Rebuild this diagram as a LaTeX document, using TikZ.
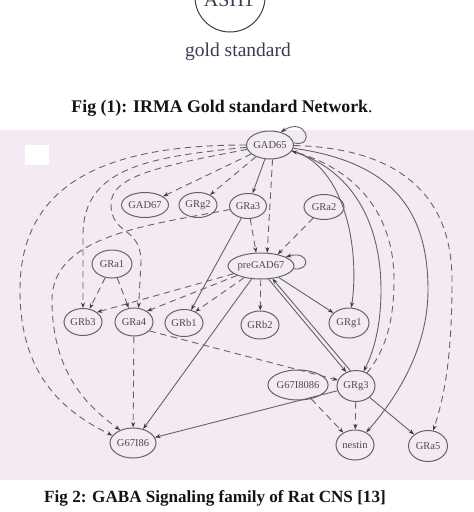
\documentclass[tikz,border=0pt]{standalone}
\usepackage{fontspec}
\setmainfont{Liberation Serif}
\usetikzlibrary{arrows.meta,shapes.geometric}
\definecolor{bgpink}{RGB}{244,234,244}
\definecolor{ln}{RGB}{100,100,100}
\definecolor{txt}{RGB}{75,75,75}
\definecolor{tip}{RGB}{60,60,60}
\definecolor{capc}{RGB}{20,20,20}
\definecolor{goldc}{RGB}{60,60,80}
\tikzset{
  nd/.style={ellipse, draw=ln, line width=1pt, inner sep=0pt, text=txt,
    font=\fontsize{10.5}{11}\selectfont, minimum width=38pt, minimum height=27pt},
  sol/.style={draw=ln, line width=0.9pt, -{Stealth[length=5.5pt,width=4pt,color=tip]}},
  dsh/.style={sol, dash pattern=on 6.5pt off 4.5pt},
}
\begin{document}
\begin{tikzpicture}[x=1pt,y=-1pt]
\useasboundingbox (0,0) rectangle (474,512);
\clip (0,0) rectangle (474,512);
\fill[white] (0,0) rectangle (474,512);
\fill[bgpink] (0,130) rectangle (474,480);
\fill[white] (25,145) rectangle (49,165);

% top part (IRMA)
\node[circle, draw=goldc, line width=1pt, minimum size=70pt, inner sep=0pt] (ash) at (230,-3) {};
\node[anchor=base, text=goldc, font=\fontsize{20}{22}\selectfont] (ashlbl) at (229,6) {ASH1};
\node[text=goldc, font=\fontsize{19.5}{22}\selectfont] (gold) at (238,52) {gold standard};
\node[text=capc, font=\fontsize{17.8}{20}\selectfont] (cap1) at (222,108) {\textbf{Fig (1): IRMA Gold standard Network}.};
\node[text=capc, font=\fontsize{17.1}{20}\selectfont\bfseries] (cap2) at (215,498) {Fig 2: GABA Signaling family of Rat CNS [13]};

% nodes
\node[nd, minimum width=46pt, minimum height=28pt] (GAD65) at (270,145) {GAD65};
\node[nd, minimum width=44pt, minimum height=25pt] (GAD67) at (145,205) {GAD67};
\node[nd, minimum height=25pt] (GRg2) at (198,205) {GRg2};
\node[nd, minimum width=37pt, minimum height=25pt] (GRa3) at (248,206) {GRa3};
\node[nd, minimum width=40pt, minimum height=25pt] (GRa2) at (324,207) {GRa2};
\node[nd, minimum width=57pt, minimum height=26pt] (preGAD67) at (261,266) {preGAD67};
\node[nd, minimum width=40pt, minimum height=28pt] (GRa1) at (112,264) {GRa1};
\node[nd] (GRb3) at (83,322) {GRb3};
\node[nd, minimum height=28pt] (GRa4) at (134,322) {GRa4};
\node[nd] (GRb1) at (184,323) {GRb1};
\node[nd, minimum height=28pt] (GRb2) at (260,325) {GRb2};
\node[nd, minimum width=40pt, minimum height=30pt] (GRg1) at (349,323) {GRg1};
\node[nd, minimum width=54pt, minimum height=30pt] (G67I8086) at (298,385) {G67I8086};
\node[nd, minimum height=31pt] (GRg3) at (356,386) {GRg3};
\node[nd, minimum width=46pt, minimum height=30pt] (G67I86) at (133,443) {G67I86};
\node[nd, minimum height=30pt] (nestin) at (355,445) {nestin};
\node[nd, minimum width=39pt, minimum height=31pt] (GRa5) at (428,446) {GRa5};

% GAD65 self loop
\draw[sol] (GAD65.5) .. controls (316,148) and (306,116) .. (GAD65.50);
% GAD65 right-hand curves
\draw[sol] (GAD65) .. controls (345,165) and (360,250) .. (GRg1);
\draw[sol] (GAD65) .. controls (350,168) and (381,220) .. (381,290) .. controls (381,330) and (372,355) .. (GRg3);
\draw[dsh] (GRg3) .. controls (386,350) and (394,320) .. (394,280) .. controls (394,210) and (352,168) .. (GAD65);
\draw[sol] (GAD65) .. controls (392,162) and (428,210) .. (428,290) .. controls (428,350) and (395,400) .. (nestin);
\draw[dsh] (GAD65) .. controls (402,148) and (452,198) .. (452,280) .. controls (452,350) and (446,392) .. (GRa5);
% GAD65 left-hand curves
\draw[dsh] (GAD65) .. controls (120,145) and (20,175) .. (20,290) .. controls (20,372) and (60,410) .. (G67I86.160);
\draw[dsh] (GAD65) .. controls (148,157) and (83,168) .. (83,235) -- (GRb3);
\draw[dsh] (GAD65) .. controls (160,166) and (110,176) .. (111,205) .. controls (112,236) and (141,226) .. (141,262) -- (GRa4.72);
\draw[dsh] (GAD65) -- (GAD67);
\draw[dsh] (GAD65) -- (GRg2);
\draw[sol] (GAD65) -- (GRa3);
\draw[dsh] (GAD65.280) -- (preGAD67.65);
% GRa3
\draw[dsh] (GRa3) .. controls (150,225) and (52,235) .. (52,300) .. controls (52,375) and (90,408) .. (G67I86.135);
\draw[dsh] (GRa3) -- (preGAD67.110);
\draw[sol] (GRa3) -- (GRb1);
% GRa2
\draw[dsh] (GRa2) -- (preGAD67.35);
% preGAD67
\draw[sol] (preGAD67.-5) .. controls (312,271) and (309,250) .. (preGAD67.20);
\draw[dsh] (preGAD67) -- (GRb3.35);
\draw[dsh] (preGAD67) -- (GRa4.40);
\draw[dsh] (preGAD67) -- (GRb1.45);
\draw[dsh] (preGAD67) -- (GRb2);
\draw[sol] (preGAD67) -- (GRg1);
\draw[sol] (preGAD67) -- (G67I86);
\draw[sol] (preGAD67.-60) -- (GRg3.125);
\draw[sol] (GRg3.110) -- (preGAD67.-48);
% GRa1
\draw[dsh] (GRa1) -- (GRb3);
\draw[dsh] (GRa1) -- (GRa4);
% GRa4
\draw[dsh] (GRa4) -- (G67I86);
\draw[dsh] (GRa4.-30) -- (GRg3.162);
% GRg3 and G67I8086
\draw[sol] (GRg3) -- (G67I86);
\draw[dsh] (GRg3) -- (nestin);
\draw[sol] (GRg3) -- (GRa5);
\draw[dsh] (G67I8086) -- (nestin);
\end{tikzpicture}
\end{document}
